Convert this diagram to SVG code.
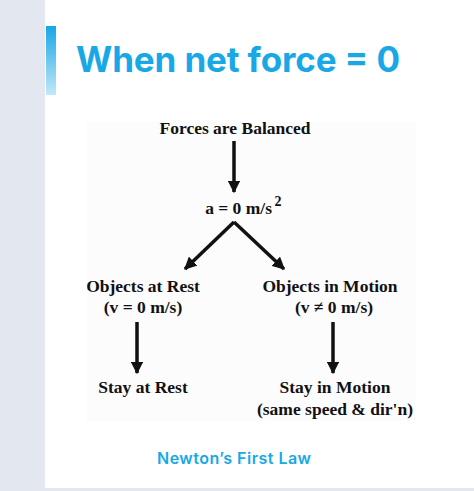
<svg xmlns="http://www.w3.org/2000/svg" width="474" height="491" viewBox="0 0 474 491">
  <defs>
    <linearGradient id="barGrad" x1="0" y1="0" x2="0" y2="1">
      <stop offset="0" stop-color="#17A6E6"/>
      <stop offset="1" stop-color="#C3E8F9"/>
    </linearGradient>
    <marker id="ah" viewBox="0 0 10 10" refX="9" refY="5" markerWidth="3.6" markerHeight="3.6" markerUnits="strokeWidth" orient="auto">
      <path d="M0,0 L10,5 L0,10 Z" fill="#111"/>
    </marker>
    <style>
      .t { font-family: "Liberation Serif", "DejaVu Serif", serif; font-weight: bold; font-size: 17.5px; fill: #111; text-anchor: middle; }
      .c { stroke: #111; stroke-width: 3.5; fill: none; marker-end: url(#ah); }
    </style>
  </defs>
  <rect x="0" y="0" width="474" height="491" fill="#FFFFFF"/>
  <rect x="0" y="0" width="45" height="491" fill="#E2E7F0"/>
  <rect x="0" y="488" width="474" height="3" fill="#E2E7F0"/>
  <rect x="46" y="26" width="10" height="69" fill="url(#barGrad)"/>
  <text x="76" y="72" font-family="Inter, 'DejaVu Sans', sans-serif" font-weight="bold" font-size="35" fill="#19A8E6" textLength="324">When net force = 0</text>
  <rect x="87" y="122" width="329" height="299" fill="#FCFCFC"/>

  <g id="connectors">
    <line class="c" x1="234" y1="141" x2="234" y2="192"/>
    <line class="c" x1="234" y1="222" x2="185" y2="269"/>
    <line class="c" x1="234" y1="222" x2="284" y2="269"/>
    <line class="c" x1="137" y1="322" x2="137" y2="373"/>
    <line class="c" x1="333" y1="322" x2="333" y2="373"/>
  </g>

  <g id="forces-balanced">
    <text class="t" x="235" y="134">Forces are Balanced</text>
  </g>
  <g id="acceleration">
    <text class="t" x="272" y="214" style="text-anchor:end">a = 0 m/s</text>
    <text class="t" x="278" y="206" style="font-size:14px">2</text>
  </g>
  <g id="objects-rest">
    <text class="t" x="143" y="292">Objects at Rest</text>
    <text class="t" x="143" y="313">(v = 0 m/s)</text>
  </g>
  <g id="objects-motion">
    <text class="t" x="330" y="292">Objects in Motion</text>
    <text class="t" x="334" y="313">(v ≠ 0 m/s)</text>
  </g>
  <g id="stay-rest">
    <text class="t" x="143" y="393">Stay at Rest</text>
  </g>
  <g id="stay-motion">
    <text class="t" x="335" y="393">Stay in Motion</text>
    <text class="t" x="335" y="415">(same speed &amp; dir'n)</text>
  </g>
  <text x="234" y="464" font-family="Inter, 'DejaVu Sans', sans-serif" font-weight="600" font-size="16" fill="#19A8E6" text-anchor="middle" textLength="154">Newton’s First Law</text>
</svg>
